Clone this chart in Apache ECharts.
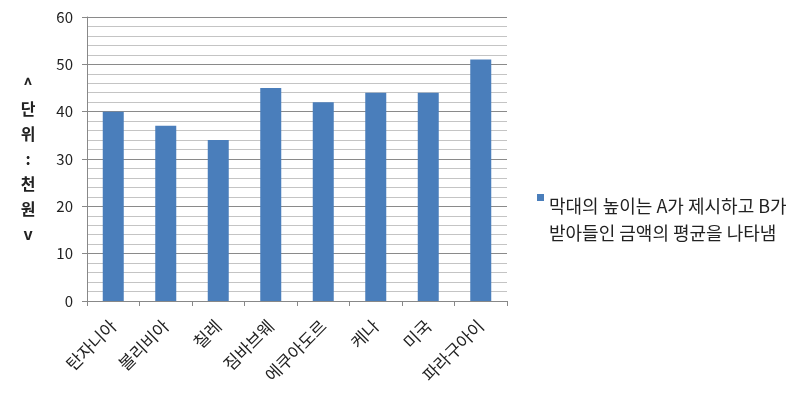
<!DOCTYPE html>
<html>
<head>
<meta charset="utf-8">
<script src="https://cdn.jsdelivr.net/npm/echarts@6/dist/echarts.min.js"></script>
<style>
  html, body { margin: 0; padding: 0; background: #fff; }
  #chart { width: 805px; height: 408px; }
</style>
</head>
<body>
<div id="chart"></div>
<script>
var categories = ['탄자니아', '볼리비아', '칠레', '짐바브웨', '에쿠아도르', '케나', '미국', '파라구아이'];
var values = [40, 37, 34, 45, 42, 44, 44, 51];
var seriesName = '막대의 높이는 A가 제시하고 B가\n받아들인 금액의 평균을 나타냄';
var axisName = '^\n단\n위\n:\n천\n원\nv';

var font = '"Noto Sans CJK KR", sans-serif';
var chart = echarts.init(document.getElementById('chart'));
var option = {
	animation: false,
	textStyle: { fontFamily: font },
	grid: { left: 87, right: 298, top: 17, bottom: 107 },
	legend: {
		left: 537,
		top: 170,
		padding: 0,
		orient: 'vertical',
		itemWidth: 7,
		itemHeight: 7,
		icon: 'rect',
		data: [seriesName],
		// blank first row pushes the text down so the square sits on line one
		formatter: function(name) {
			var lines = name.split('\n');
			return '{e| }\n{t|' + lines[0] + '}\n{t|' + lines[1] + '}';
		},
		textStyle: {
			fontFamily: font,
			color: '#222',
			rich: {
				e: { fontSize: 1, lineHeight: 45 },
				t: { fontSize: 18, lineHeight: 27, color: '#222', fontFamily: font }
			}
		}
	},
	xAxis: {
		type: 'category',
		data: categories,
		axisLine: { lineStyle: { color: '#888' } },
		axisTick: { show: true, length: 5, lineStyle: { color: '#888' } },
		axisLabel: {
			rotate: 45,
			margin: 22,
			fontSize: 17,
			color: '#222',
			fontFamily: font
		}
	},
	yAxis: {
		type: 'value',
		min: 0,
		max: 60,
		interval: 10,
		name: axisName,
		nameLocation: 'middle',
		nameRotate: 0,
		nameGap: 59,
		nameTextStyle: {
			fontSize: 16,
			fontWeight: 'bold',
			color: '#222',
			lineHeight: 25,
			align: 'center',
			padding: [14, 0, 0, 0],
			fontFamily: font
		},
		axisLine: { show: true, lineStyle: { color: '#888' } },
		axisTick: { show: true, length: 5, lineStyle: { color: '#888' } },
		axisLabel: { fontSize: 15, color: '#222', margin: 14, fontFamily: font },
		splitLine: { show: true, lineStyle: { color: '#8a8a8a', width: 1 } },
		minorTick: { show: false, splitNumber: 5 },
		minorSplitLine: { show: true, lineStyle: { color: '#c4c4c4', width: 1 } }
	},
	series: [{
		name: seriesName,
		type: 'bar',
		data: values,
		barWidth: '40%',
		itemStyle: { color: '#4a7ebb' }
	}]
};
chart.setOption(option);
</script>
</body>
</html>
